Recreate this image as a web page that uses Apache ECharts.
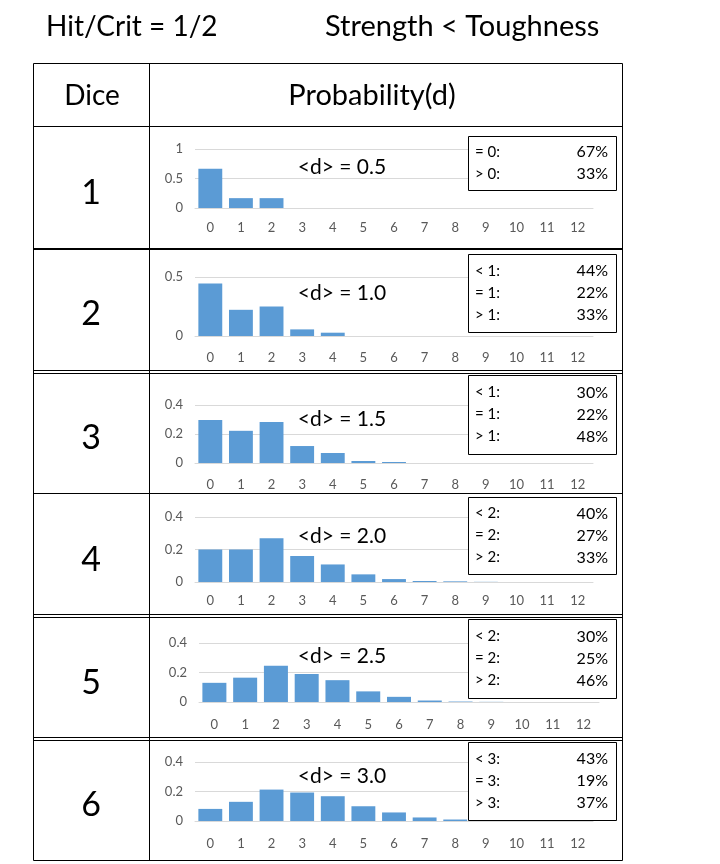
<!DOCTYPE html>
<html>
<head>
<meta charset="utf-8">
<script src="https://cdn.jsdelivr.net/npm/echarts@6/dist/echarts.min.js"></script>
<style>html,body{margin:0;padding:0;background:#fff}#c{width:720px;height:864px}</style>
</head>
<body>
<div id="c"></div>
<script>
// ---- data ----
const categories = ['0','1','2','3','4','5','6','7','8','9','10','11','12'];
const diceCounts = ['1','2','3','4','5','6'];
const prob1 = [0.667,0.167,0.167,0,0,0,0,0,0,0,0,0,0];
const prob2 = [0.444,0.222,0.25,0.056,0.028,0,0,0,0,0,0,0,0];
const prob3 = [0.296,0.222,0.283,0.117,0.069,0.014,0.007,0,0,0,0,0,0];
const prob4 = [0.2,0.2,0.27,0.16,0.108,0.047,0.018,0.006,0.004,0.001,0,0,0];
const prob5 = [0.13,0.165,0.246,0.19,0.148,0.072,0.035,0.01,0.003,0.001,0,0,0];
const prob6 = [0.082,0.13,0.213,0.193,0.168,0.1,0.058,0.024,0.01,0.004,0.001,0,0];
const meanLabels = ['0.5','1.0','1.5','2.0','2.5','3.0'];
const boxLabels = [['= 0:','> 0:'],['< 1:','= 1:','> 1:'],['< 1:','= 1:','> 1:'],['< 2:','= 2:','> 2:'],['< 2:','= 2:','> 2:'],['< 3:','= 3:','> 3:']];
const boxValues = [['67%','33%'],['44%','22%','33%'],['30%','22%','48%'],['40%','27%','33%'],['30%','25%','46%'],['43%','19%','37%']];
const yMax = [1,0.5,0.4,0.4,0.4,0.4];
const yStep = [0.5,0.5,0.2,0.2,0.2,0.2];
const titleLeft = 'Hit/Crit = 1/2';
const titleRight = 'Strength < Toughness';
const headDice = 'Dice';
const headProb = 'Probability(d)';

const probs = [prob1,prob2,prob3,prob4,prob5,prob6];

// ---- layout ----
const FONT = 'Lato';
const gridTop = [149,277,405,517,643,762];
const gridH = [59,59,58,65,59,59];
const gridL = [195,195,195,195,199,195];
const gridR = [127,127,127,127,121,127];
const xLabelMargin = [13,15,15,12,16,16];
const rowDigitY = [193,314,438,560,683,805];
const meanY = [167,293,419,536,656,776];
const boxY = [136,254,375,497,619,742];
const boxH = [54,78,79,77,79,78];
const lineStep = 22;

const grids = [], xAxes = [], yAxes = [], series = [];
for (let i = 0; i < 6; i++) {
  grids.push({left: gridL[i], right: gridR[i], top: gridTop[i], height: gridH[i], containLabel: false});
  xAxes.push({
    type: 'category', gridIndex: i, data: categories,
    axisLine: {lineStyle: {color: '#d9d9d9'}}, axisTick: {show: false},
    axisLabel: {color: '#595959', fontSize: 13, fontFamily: FONT, margin: xLabelMargin[i], interval: 0}
  });
  yAxes.push({
    type: 'value', gridIndex: i, min: 0, max: yMax[i], interval: yStep[i],
    axisLine: {show: false}, axisTick: {show: false},
    splitLine: {lineStyle: {color: '#d9d9d9'}},
    axisLabel: {color: '#595959', fontSize: 13, fontFamily: FONT, margin: 12}
  });
  series.push({
    type: 'bar', xAxisIndex: i, yAxisIndex: i, data: probs[i],
    barCategoryGap: '22%', itemStyle: {color: '#5B9BD5'}, silent: true
  });
}

const g = [];
function txt(text, x, y, size, align, color) {
  g.push({type: 'text', z: 100, style: {text: text, x: x, y: y, fontSize: size, fontFamily: FONT,
    fill: color || '#000', align: align, textAlign: align, verticalAlign: 'middle', textVerticalAlign: 'middle'}});
}
function ln(x1, y1, x2, y2, w) {
  g.push({type: 'line', z: 100, shape: {x1: x1, y1: y1, x2: x2, y2: y2}, style: {stroke: '#000', lineWidth: w || 1}});
}

// titles
txt(titleLeft, 46, 27, 28, 'left');
txt(titleRight, 325, 27, 29, 'left');
// table frame
ln(33.5, 63.5, 622.5, 63.5);
ln(33.5, 126.5, 622.5, 126.5);
ln(33.5, 249, 622.5, 249, 2);
ln(33.5, 370.5, 622.5, 370.5); ln(33.5, 373.5, 622.5, 373.5);
ln(33.5, 493.5, 622.5, 493.5);
ln(33.5, 614.5, 622.5, 614.5); ln(33.5, 617.5, 622.5, 617.5);
ln(33.5, 737.5, 622.5, 737.5); ln(33.5, 740.5, 622.5, 740.5);
ln(33.5, 860.5, 622.5, 860.5);
ln(33.5, 63.5, 33.5, 860.5);
ln(149.5, 63.5, 149.5, 860.5);
ln(622.5, 63.5, 622.5, 860.5);
txt(headDice, 92, 96, 28, 'center');
txt(headProb, 372, 96, 29, 'center');

for (let i = 0; i < 6; i++) {
  txt(diceCounts[i], 91, rowDigitY[i], 34, 'center');
  txt('<d> = ' + meanLabels[i], 342, meanY[i], 21, 'center');
  g.push({type: 'rect', z: 90, shape: {x: 468.5, y: boxY[i] + 0.5, width: 148, height: boxH[i]},
    style: {fill: '#fff', stroke: '#000', lineWidth: 1}});
  const n = boxLabels[i].length;
  const y0 = boxY[i] + boxH[i] / 2 - (n - 1) * lineStep / 2;
  for (let k = 0; k < n; k++) {
    txt(boxLabels[i][k], 475, y0 + k * lineStep, 15, 'left');
    txt(boxValues[i][k], 608, y0 + k * lineStep, 16, 'right');
  }
}

const chart = echarts.init(document.getElementById('c'), null, {renderer: 'canvas'});
chart.setOption({
  backgroundColor: '#fff',
  animation: false,
  grid: grids, xAxis: xAxes, yAxis: yAxes, series: series,
  graphic: g
});
</script>
</body>
</html>
